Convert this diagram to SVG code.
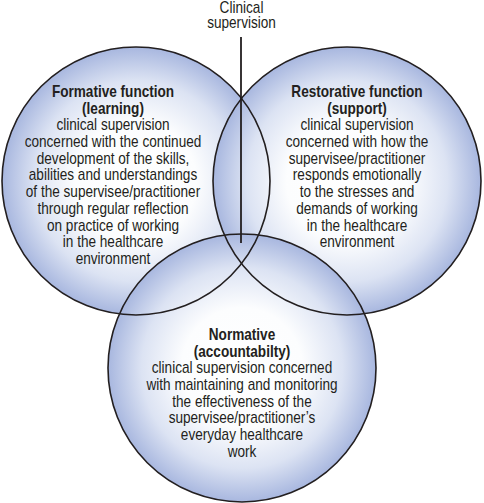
<svg xmlns="http://www.w3.org/2000/svg" width="484" height="503" viewBox="0 0 484 503">
<defs>
<radialGradient id="g" cx="0.5" cy="0.5" r="0.5">
<stop offset="0" stop-color="#ffffff"/>
<stop offset="0.45" stop-color="#fcfdfe"/>
<stop offset="0.75" stop-color="#dce3f3"/>
<stop offset="1" stop-color="#a8b7df"/>
</radialGradient>
<style>
.fill{fill:url(#g);stroke:none}
.ol{fill:none;stroke:#231f20;stroke-width:1.6}
text{font-family:"Liberation Sans",Arial,sans-serif;font-size:16px;fill:#231f20;text-anchor:middle}
.b{font-weight:bold}
.conn{stroke:#231f20;stroke-width:1.8;fill:none}
</style>
</defs>
<rect width="484" height="503" fill="#ffffff"/>
<g id="formative">
<circle class="fill" cx="136" cy="181" r="134"/>
</g>
<g id="restorative">
<circle class="fill" cx="347" cy="181" r="134"/>
</g>
<g id="normative">
<circle class="fill" cx="242" cy="368" r="134"/>
</g>
<g id="outlines">
<circle class="ol" cx="136" cy="181" r="134"/>
<circle class="ol" cx="347" cy="181" r="134"/>
<circle class="ol" cx="242" cy="368" r="134"/>
</g>
<g id="connectors">
<line class="conn" x1="241" y1="37" x2="241" y2="243"/>
</g>
<g id="label-clinical" transform="translate(241.5,0) scale(0.85,1)">
<text x="0" y="12.5">Clinical</text>
<text x="0" y="28">supervision</text>
</g>
<g id="formative-text" transform="translate(113,0) scale(0.85,1)">
<text class="b" x="0" y="97">Formative function</text>
<text class="b" x="0" y="113.7">(learning)</text>
<text x="0" y="130.4">clinical supervision</text>
<text x="0" y="147.1">concerned with the continued</text>
<text x="0" y="163.8">development of the skills,</text>
<text x="0" y="180.5">abilities and understandings</text>
<text x="0" y="197.2">of the supervisee/practitioner</text>
<text x="0" y="213.9">through regular reflection</text>
<text x="0" y="230.6">on practice of working</text>
<text x="0" y="247.3">in the healthcare</text>
<text x="0" y="264">environment</text>
</g>
<g id="restorative-text" transform="translate(357,0) scale(0.85,1)">
<text class="b" x="0" y="97">Restorative function</text>
<text class="b" x="0" y="113.7">(support)</text>
<text x="0" y="130.4">clinical supervision</text>
<text x="0" y="147.1">concerned with how the</text>
<text x="0" y="163.8">supervisee/practitioner</text>
<text x="0" y="180.5">responds emotionally</text>
<text x="0" y="197.2">to the stresses and</text>
<text x="0" y="213.9">demands of working</text>
<text x="0" y="230.6">in the healthcare</text>
<text x="0" y="247.3">environment</text>
</g>
<g id="normative-text" transform="translate(242,0) scale(0.85,1)">
<text class="b" x="0" y="340">Normative</text>
<text class="b" x="0" y="356.7">(accountabilty)</text>
<text x="0" y="373.4">clinical supervision concerned</text>
<text x="0" y="390.1">with maintaining and monitoring</text>
<text x="0" y="406.8">the effectiveness of the</text>
<text x="0" y="423.5">supervisee/practitioner’s</text>
<text x="0" y="440.2">everyday healthcare</text>
<text x="0" y="456.9">work</text>
</g>
</svg>
